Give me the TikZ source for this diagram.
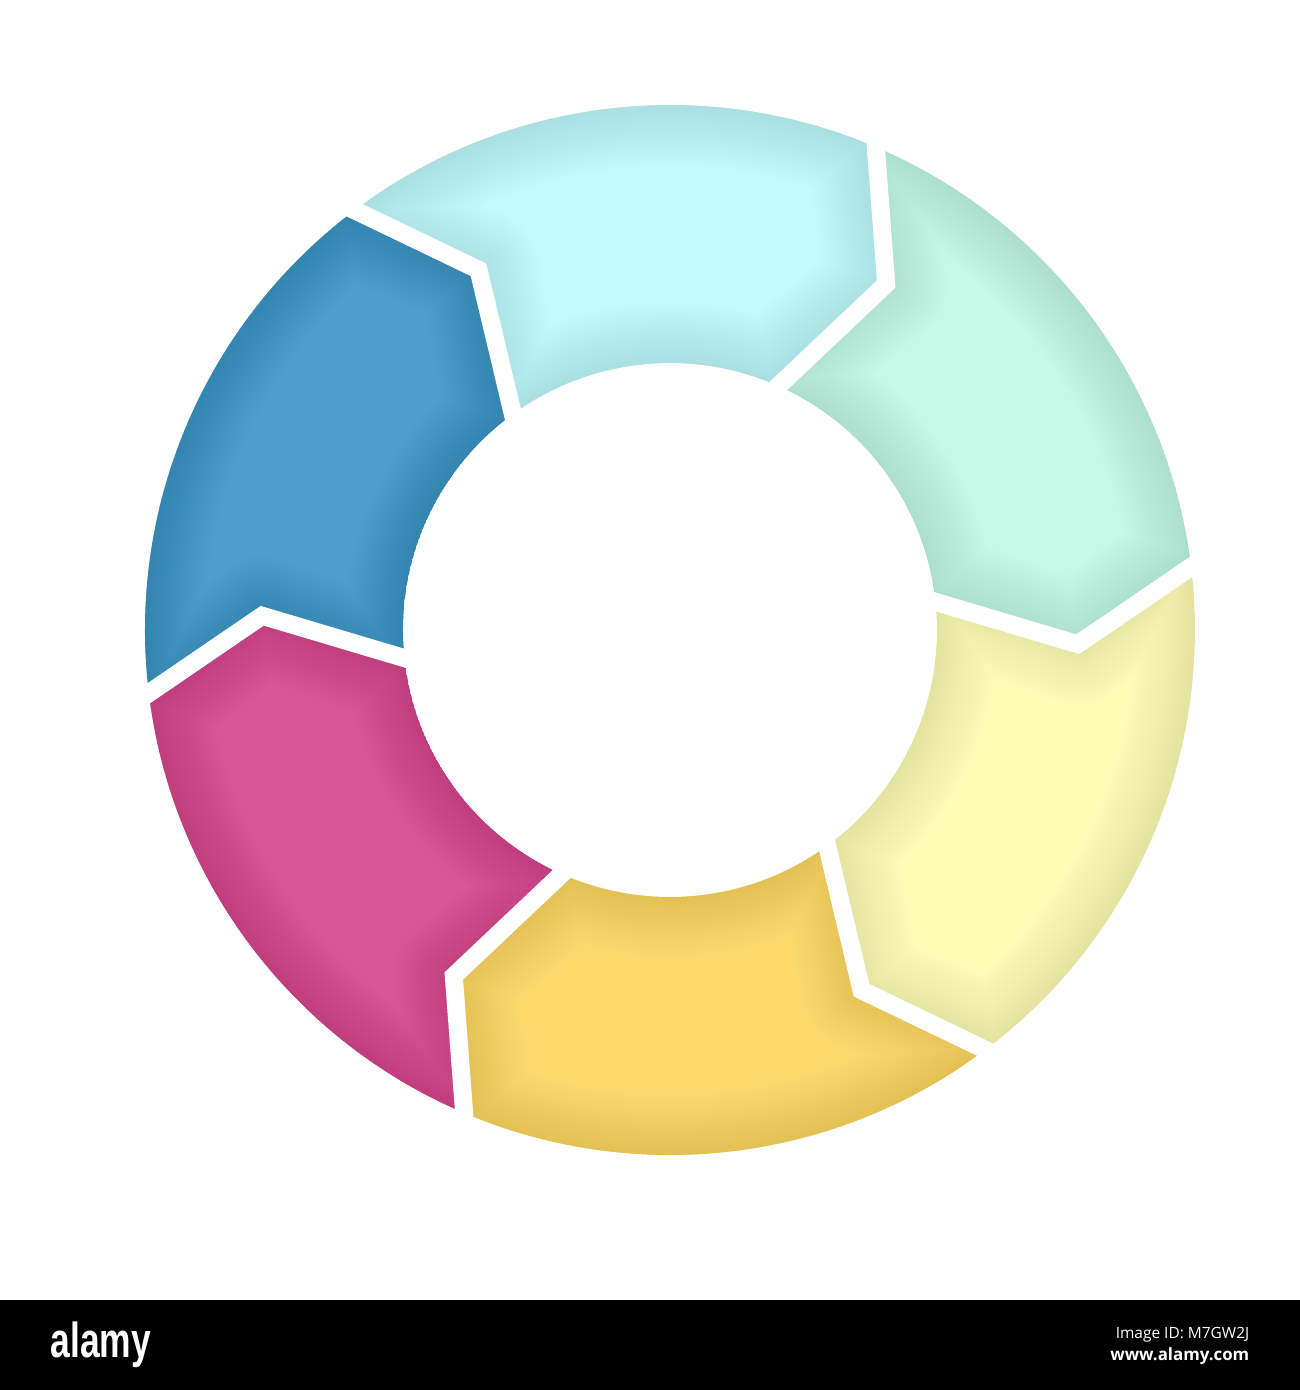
\documentclass[tikz,border=0pt]{standalone}
\usepackage{fontspec}
\usepackage{tikz}
\usetikzlibrary{calc}
\newfontfamily\logofont{Liberation Sans}
\newfontfamily\barfont{Open Sans}

\definecolor{segmint}{HTML}{C5F8E6}
\definecolor{segcyan}{HTML}{C2F9FC}
\definecolor{segblue}{HTML}{4C9DC8}
\definecolor{segmagenta}{HTML}{D85696}
\definecolor{segorange}{HTML}{FDD96C}
\definecolor{segyellow}{HTML}{FEFDB8}

\newcommand{\ringin}{2.67}
\newcommand{\ringmid}{4.08}
\newcommand{\ringout}{5.25}
\newcommand{\ringpiece}[1]{(#1:\ringin) -- (#1-10:\ringmid) -- (#1:\ringout)
  arc[start angle=#1, end angle=#1+60, radius=\ringout] -- (#1+50:\ringmid)
  -- (#1+60:\ringin) arc[start angle=#1+60, end angle=#1, radius=\ringin] -- cycle}

\tikzstyle{gapline} = [white, line width=1.8mm, line join=miter]
\tikzstyle{rimshade} = [opacity=0.013, line join=round]
\tikzstyle{bartext} = [white, inner sep=0pt]

\begin{document}
\begin{tikzpicture}
	\useasboundingbox (-6.70,-7.60) rectangle (6.30,6.30);
	% ring pieces, darker towards their edges
	\foreach \a/\c in {8/segmint, 68/segcyan, 128/segblue, 188/segmagenta, 248/segorange, 308/segyellow} {
		\begin{scope}
			\clip \ringpiece{\a};
			\fill[\c] \ringpiece{\a};
			\foreach \w in {1,...,24}
				\draw[rimshade, \c!65!black, line width=\w*0.5mm] \ringpiece{\a};
		\end{scope}
	}
	% white gaps between the pieces
	\foreach \a in {8,68,...,308}
		\draw[gapline] (\a:\ringin-0.2) -- (\a-10:\ringmid) -- (\a:\ringout+0.2);
	% black bar at the bottom
	\fill[black] (-6.70,-7.60) rectangle (6.30,-6.70);
	\node (logo) [bartext, anchor=base west, xscale=0.72] at (-6.20,-7.27) {\logofont\bfseries\fontsize{14}{16}\selectfont alamy};
	\node (imageid) [bartext, anchor=base east] at (5.80,-7.08) {\barfont\fontsize{4.4}{5}\selectfont Image ID: M7GW2J};
	\node (website) [bartext, anchor=base east] at (5.80,-7.30) {\barfont\bfseries\fontsize{4.8}{6}\selectfont www.alamy.com};
\end{tikzpicture}
\end{document}
